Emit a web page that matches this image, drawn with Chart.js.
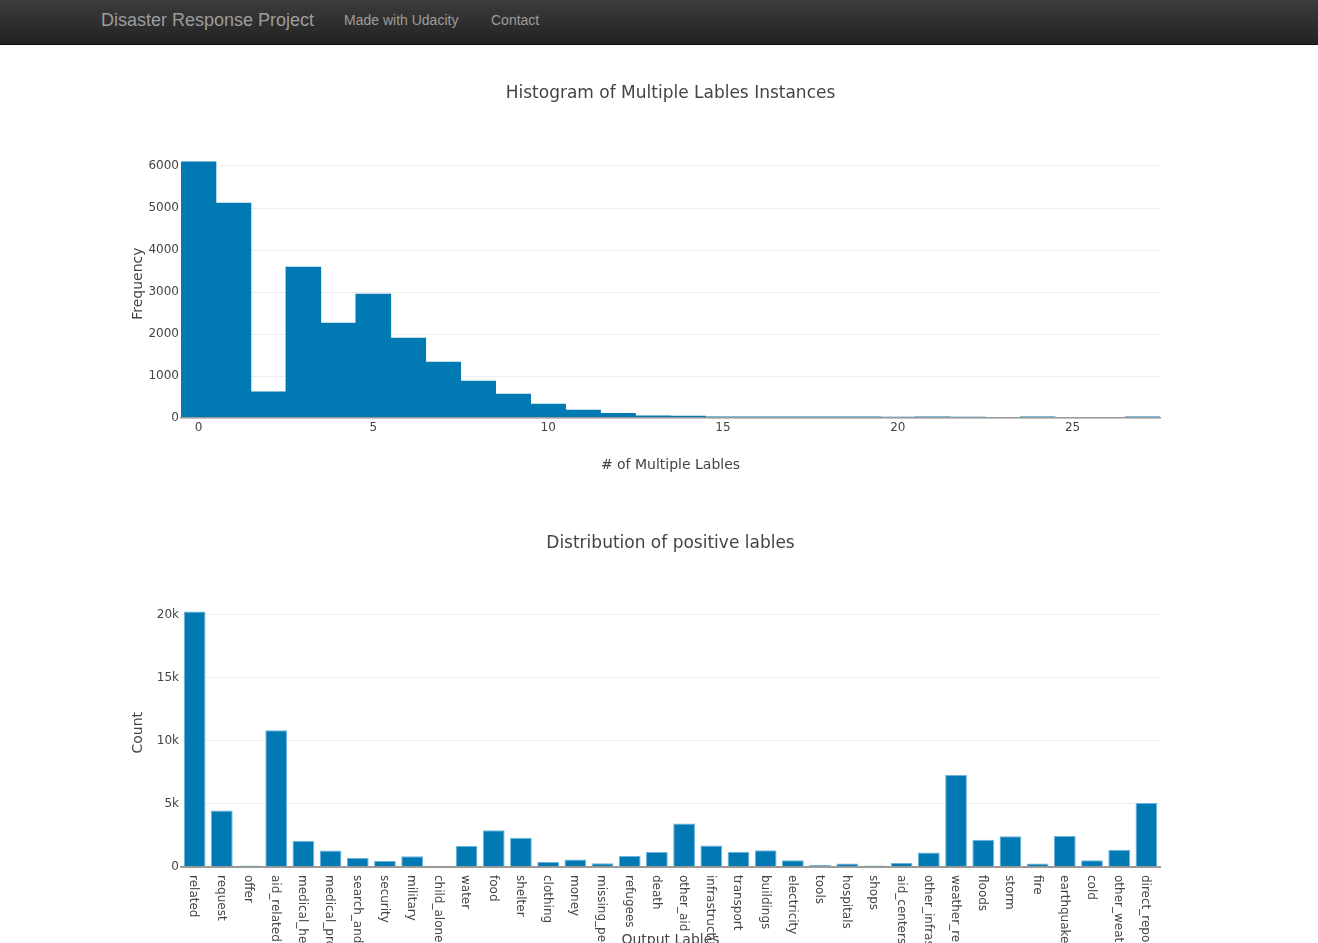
<!DOCTYPE html>
<html>
<head>
<meta charset="utf-8">
<script src="https://cdn.jsdelivr.net/npm/chart.js@4.4.1/dist/chart.umd.min.js"></script>
<style>
html, body { margin:0; padding:0; overflow:hidden; background:#fff; width:1318px; height:943px; }
.navbar { position:absolute; left:0; top:0; width:1318px; height:44px;
  background:linear-gradient(to bottom, #3c3c3c 0%, #222 100%);
  border-bottom:1px solid #080808; font-family:"Liberation Sans", Arial, sans-serif; color:#9d9d9d; }
.navbar span { position:absolute; top:0; line-height:40px; white-space:nowrap; }
.brand { left:101px; font-size:18px; }
.link1 { left:344px; font-size:14px; }
.link2 { left:491px; font-size:14px; }
canvas { position:absolute; left:0; }
#c1 { top:47px; }
#c2 { top:501px; }
</style>
</head>
<body>
<div class="navbar">
  <span class="brand">Disaster Response Project</span>
  <span class="link1">Made with Udacity</span>
  <span class="link2">Contact</span>
</div>
<canvas id="c1" width="1318" height="444"></canvas>
<canvas id="c2" width="1318" height="500"></canvas>
<script>
// ---- data ----
const histBins = ['0','1','2','3','4','5','6','7','8','9','10','11','12','13','14','15','16','17','18','19','20','21','22','23','24','25','26','27'];
const histCounts = [6100, 5120, 625, 3595, 2262, 2952, 1905, 1333, 881, 571, 333, 190, 110, 52, 48, 30, 28, 27, 26, 25, 24, 25, 24, 0, 26, 0, 0, 25];
const histTickIdx = [0, 5, 10, 15, 20, 25];
const freqTicks = [0, 1000, 2000, 3000, 4000, 5000, 6000];

const categories = ['related','request','offer','aid_related','medical_help','medical_products','search_and_rescue','security','military','child_alone','water','food','shelter','clothing','money','missing_people','refugees','death','other_aid','infrastructure_related','transport','buildings','electricity','tools','hospitals','shops','aid_centers','other_infrastructure','weather_related','floods','storm','fire','earthquake','cold','other_weather','direct_report'];
const categoryCounts = [20282, 4474, 118, 10860, 2084, 1313, 724, 471, 860, 0, 1672, 2923, 2314, 405, 604, 298, 875, 1194, 3446, 1705, 1201, 1333, 532, 159, 283, 120, 309, 1151, 7297, 2155, 2443, 282, 2455, 530, 1376, 5075];
const countTicks = [0, 5000, 10000, 15000, 20000];
const countTickLabels = ['0', '5k', '10k', '15k', '20k'];

// ---- style ----
const FONT = '"DejaVu Sans", Verdana, sans-serif';
const BLUE = 'rgb(1,121,178)';
const EDGE = 'rgb(110,180,220)';
const TXT = '#444';
Chart.defaults.font.family = FONT;
Chart.defaults.color = TXT;

// center the title over the plot area (as the reference does)
const centerTitle = {
  id: 'centerTitle',
  afterLayout(chart) {
    const t = chart.titleBlock;
    if (t) { t.left = chart.chartArea.left; t.right = chart.chartArea.right; t.width = t.right - t.left; }
  }
};

new Chart(document.getElementById('c1'), {
  type: 'bar',
  data: { labels: histBins, datasets: [{ data: histCounts, backgroundColor: BLUE, borderWidth: 0, barPercentage: 1, categoryPercentage: 1 }] },
  options: {
    responsive: false, animation: false, devicePixelRatio: 1,
    layout: { padding: { left: 0, right: 158, top: 0, bottom: 0 } },
    plugins: {
      legend: { display: false }, tooltip: { enabled: false },
      title: { display: true, text: 'Histogram of Multiple Lables Instances', color: TXT,
        font: { family: FONT, size: 17, weight: 'normal' }, padding: { top: 36.8, bottom: 45 } }
    },
    scales: {
      x: {
        grid: { display: false, drawTicks: false },
        border: { display: true, color: '#9a9a9a', width: 1.5, z: 1 },
        ticks: { autoSkip: false, maxRotation: 0, minRotation: 0, padding: 3, color: TXT, font: { size: 12 },
          callback: (v, i) => histTickIdx.includes(i) ? histBins[i] : '' },
        title: { display: true, text: '# of Multiple Lables', color: TXT, font: { size: 14 }, padding: { top: 0, bottom: 17.6 } },
        afterFit: s => { s.height = 73; }
      },
      y: {
        min: 0, max: 6400,
        ticks: { padding: 2, color: TXT, font: { size: 12 }, callback: v => String(v) },
        afterBuildTicks: s => { s.ticks = freqTicks.map(v => ({ value: v })); },
        grid: { color: '#eee', drawTicks: false },
        border: { display: false },
        title: { display: true, text: 'Frequency', color: TXT, font: { size: 14 }, padding: { top: 129.6, bottom: 0 } },
        afterFit: s => { s.width = 181; }
      }
    }
  },
  plugins: [centerTitle]
});

const rotLabels = {
  id: 'rotLabels',
  afterDraw(chart) {
    const sc = chart.scales.x, c = chart.ctx;
    c.save();
    c.font = '12px ' + FONT; c.fillStyle = TXT; c.textAlign = 'left'; c.textBaseline = 'middle';
    chart.data.labels.forEach((l, i) => {
      const x = sc.getPixelForTick(i);
      c.save(); c.translate(x - 1, sc.top + 8); c.rotate(Math.PI / 2); c.fillText(l, 0, 0); c.restore();
    });
    c.restore();
  }
};

new Chart(document.getElementById('c2'), {
  type: 'bar',
  data: { labels: categories, datasets: [{ data: categoryCounts, backgroundColor: BLUE, borderColor: EDGE, borderWidth: 1, barPercentage: 0.8, categoryPercentage: 1 }] },
  options: {
    responsive: false, animation: false, devicePixelRatio: 1,
    layout: { padding: { left: 0, right: 158, top: 0, bottom: 0 } },
    plugins: {
      legend: { display: false }, tooltip: { enabled: false },
      title: { display: true, text: 'Distribution of positive lables', color: TXT,
        font: { family: FONT, size: 17, weight: 'normal' }, padding: { top: 32.8, bottom: 44.4 } }
    },
    scales: {
      x: {
        grid: { display: false, drawTicks: false },
        border: { display: true, color: '#9a9a9a', width: 2, z: 1 },
        ticks: { display: false },
        title: { display: true, text: 'Output Lables', color: TXT, font: { size: 14 }, padding: { top: 0, bottom: 52.6 } },
        afterFit: s => { s.height = 134; }
      },
      y: {
        min: 0, max: 21300,
        ticks: { padding: 2, color: TXT, font: { size: 12 },
          callback: (v) => { const k = countTicks.indexOf(v); return k >= 0 ? countTickLabels[k] : ''; } },
        afterBuildTicks: s => { s.ticks = countTicks.map(v => ({ value: v })); },
        grid: { color: '#eee', drawTicks: false },
        border: { display: false },
        title: { display: true, text: 'Count', color: TXT, font: { size: 14 }, padding: { top: 129.6, bottom: 0 } },
        afterFit: s => { s.width = 181; }
      }
    }
  },
  plugins: [rotLabels, centerTitle]
});
</script>
</body>
</html>
